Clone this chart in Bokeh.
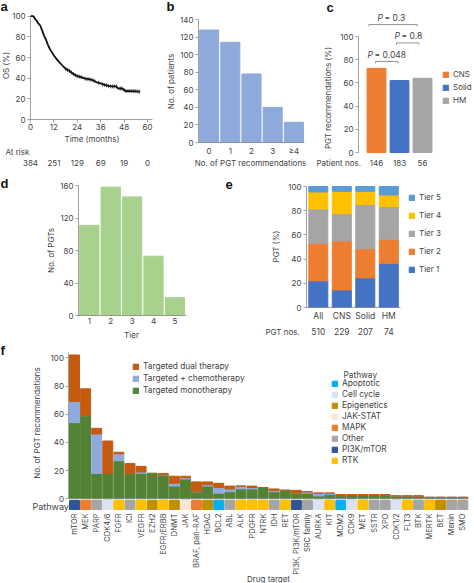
import math
from bokeh.plotting import figure
from bokeh.layouts import row, column
from bokeh.models import Label, Legend, LegendItem, Range1d, LinearAxis, ColumnDataSource, FixedTicker
from bokeh.embed import file_html
from bokeh.resources import INLINE

# ---- data ----
km_t = [0,1.5,2.5,3,4,5,6,7,8,9,10,11,12,14,16,18,20,22,24,26,28,30,32,34,36,38,40,42,44,45,47,48,49,52,56]
km_s = [100,100,97,96,93,91,86,81,77,72,68,65,62,57,53,49,47,44,42,41,39.5,39,38,36,35,33.5,32.5,32,32,30,30,28.5,27.5,27.5,27]
cens_t = [18,19,20,21,22,23,24,25,26,28,29,30,31,32,33,35,37,38,39,40,41,42,43,44,46,47,48,49,50,51,52,53,54,55,56]
cens_s = [49,48,47,45.5,44,43,42,41.5,41,39.5,39,39,38.5,38,37,35.5,34,33.5,33,32.5,32,32,32,32,30,30,28.5,27.5,27.5,27.5,27.5,27.5,27.5,27,27]
risk_t = [0,12,24,36,48,60]
risk_n = ["384","251","129","69","19","0"]

rec_cat = ["0","1","2","3","≥4"]
rec_val = [128,114,78,40,23]

c_nos = ["146","183","56"]
c_grp = ["CNS","Solid","HM"]
c_val = [72.5,62,64]
c_col = ["#ed7d31","#4472c4","#a5a5a5"]

tier_cat = ["1","2","3","4","5"]
tier_val = [111,158,146,73,22]

e_cat = ["All","CNS","Solid","HM"]
e_nos = ["510","229","207","74"]
tier1 = [22,14.5,24.5,36.5]
tier2 = [31,40.5,24,20]
tier3 = [28.5,22.5,36.5,27]
tier4 = [14,18.5,11,9.5]
tier5 = [4.5,4,4,7]

targets = ["mTOR","MEK","PARP","CDK4/6","FGFR","ICI","VEGFR","EZH2","EGFR/ERBB","DNMT","JAK","BRAF, pan-RAF","HDAC","BCL2","ABL",
           "ALK","PDGFR","NTRK","IDH","RET","PI3K, PI3K/mTOR","SRC family","AURKA","KIT","MDM2","CDK9","MET","SSTR","XPO","CDK1/2","FLT3","BTK","MERTK","BET","Menin","SMO"]
mono = [54,59,18,18,27,18,18,18,17,9,14,5,9,4,5,7,7,8,5,6,4,4,2,3,3,3,3,3,3,2,2,2,1,1,1,1]
chemo = [15,0,28,0,5,0,1,0,0,2,1,0,1,4,2,2,1,0,1,0,0,1,2,1,0,0,0,0,0,0,0,0,0,0,0,0]
dual = [33,19,4,23,1,7,4,0,1,5,1,7,2,3,2,0,1,0,1,0,2,0,0,0,0,0,0,0,0,0,0,0,0,0,0,0]
pathway = ["PI3K/mTOR","MAPK","Other","Cell cycle","RTK","Other","RTK","Epigenetics","RTK","Epigenetics","JAK-STAT","MAPK","Epigenetics","Apoptotic","Other",
           "RTK","RTK","RTK","Other","RTK","PI3K/mTOR","Other","Cell cycle","RTK","Apoptotic","Cell cycle","RTK","Other","Other","Cell cycle","RTK","Other","RTK","Epigenetics","Other","Other"]
path_names = ["Apoptotic","Cell cycle","Epigenetics","JAK-STAT","MAPK","Other","PI3K/mTOR","RTK"]
path_cols = ["#00b0f0","#dae3f3","#bf9000","#fbe5d6","#ed7d31","#a5a5a5","#2f5597","#ffc000"]

# ---- style ----
FONT = "Inter"
FS = "8px"
TXT = "#444444"
AX = "#8a8a8a"

def panel(box, xmap, ymap):
    """box in page pixels; xmap/ymap = (pixel at v0, pixel at v1, v0, v1)."""
    x0, x1, y0, y1 = box
    def inv(px, m):
        a, b, va, vb = m
        return va + (px - a) * (vb - va) / (b - a)
    p = figure(width=x1-x0, height=y1-y0, x_range=Range1d(inv(x0, xmap), inv(x1, xmap)),
               y_range=Range1d(inv(y1, ymap), inv(y0, ymap)), x_axis_location=None, y_axis_location=None,
               min_border=0, toolbar_location=None, output_backend="svg", outline_line_color=None,
               border_fill_color=None, background_fill_color=None)
    p.grid.visible = False
    p._box = box
    return p

def axis(p, dim, loc, ticks, bounds, labels=None, tick=3, line=AX, standoff=2, size=FS, orient=None):
    ax = LinearAxis(fixed_location=loc, ticker=FixedTicker(ticks=ticks), bounds=bounds)
    ax.axis_line_color = line
    ax.axis_line_width = 0.8
    ax.major_tick_line_color = AX if tick else None
    ax.major_tick_line_width = 0.8
    ax.major_tick_in = 0
    ax.major_tick_out = tick
    ax.minor_tick_line_color = None
    ax.major_label_text_font = FONT
    ax.major_label_text_font_size = size
    ax.major_label_text_color = TXT
    ax.major_label_standoff = standoff
    if labels is not None:
        ax.major_label_overrides = dict(zip(ticks, labels))
    if orient is not None:
        ax.major_label_orientation = orient
    p.add_layout(ax, "below" if dim == "x" else "left")
    return ax

def text(p, px, py, s, align="left", size=FS, font=FONT, style="normal", color=TXT, angle=0):
    x0, x1, y0, y1 = p._box
    p.add_layout(Label(x=px-x0, y=y1-py, x_units="screen", y_units="screen", text=s, text_align=align, angle=angle,
                       text_baseline="middle", text_font=font, text_font_size=size, text_font_style=style, text_color=color))

def ytitle(p, px, py, s):
    text(p, px, py, s, align="center", angle=math.pi/2)

def letter(p, px, py, s):
    text(p, px, py, s, size="13px", font="Liberation Sans", style="bold", color="#111111")

def legend(p, items, left, bottom, spacing, glyph=7, standoff=4, size=FS):
    x0, x1, y0, y1 = p._box
    lg = Legend(items=items, location=(left-x0, y1-bottom), border_line_color=None, background_fill_color=None,
                background_fill_alpha=0, padding=0, margin=0, spacing=spacing, glyph_width=glyph, glyph_height=glyph,
                label_height=8, label_standoff=standoff, label_text_font=FONT, label_text_font_size=size, label_text_color=TXT,
                label_text_baseline="middle", orientation="vertical")
    p.add_layout(lg)

# ---- a ----
a = panel((0,162,0,172), (30,147,0,60), (119,15.7,0,100))
a.line(km_t, km_s, line_color="#111111", line_width=1.8)
a.scatter(cens_t, cens_s, marker="dash", angle=math.pi/2, size=4, line_color="#111111", line_width=0.7)
axis(a, "x", 0, risk_t, (0,62.6), standoff=1)
axis(a, "y", 0, [0,20,40,60,80,100], (0,100), standoff=2)
text(a, 91.5, 138, "Time (months)", align="center")
ytitle(a, 5, 65, "OS (%)")
for t, n in zip(risk_t, risk_n):
    a.add_layout(Label(x=t, x_units="data", y=172-162, y_units="screen", text=n, text_align="center", text_baseline="middle",
                       text_font=FONT, text_font_size=FS, text_color=TXT))
text(a, 5, 151, "At risk")
letter(a, 0, 6, "a")

# ---- b ----
b_idx = list(range(len(rec_cat)))
b = panel((162,312,0,172), (208.6,293.4,0,4), (142,19,0,140))
b.vbar(x=b_idx, top=rec_val, width=0.9, color="#8eaadb")
axis(b, "x", 0, b_idx, (-0.5,4.5), labels=rec_cat, tick=0, standoff=3)
axis(b, "y", -0.5, list(range(0,141,20)), (0,140))
text(b, 250, 162, "No. of PGT recommendations", align="center")
ytitle(b, 170, 81, "No. of patients")
letter(b, 166, 6, "b")

# ---- c ----
c_idx = list(range(len(c_nos)))
c = panel((312,474,0,172), (376,422,0,2), (152,36,0,100))
c_src = ColumnDataSource(dict(x=c_idx, top=c_val, grp=c_grp, col=c_col))
rc = c.vbar(x="x", top="top", width=0.82, color="col", source=c_src)
axis(c, "x", 0, c_idx, (-0.5,2.5), labels=c_nos, tick=0, line=None, standoff=7)
axis(c, "y", -0.78, [0,20,40,60,80,100], (0,100))
legend(c, [LegendItem(label=g, renderers=[rc], index=i) for i, g in enumerate(c_grp)], 442, 105, 3)
ytitle(c, 327, 97.5, "PGT recommendations (%)")
text(c, 316, 162, "Patient nos.")
letter(c, 326, 7, "c")
brk_from = [-0.33, 0.87, -0.04]
brk_to = [1.77, 1.84, 0.93]
brk_y = [110.3, 94.5, 78.5]
brk_text = ["= 0.3", "= 0.8", "= 0.048"]
brk_tx = [377, 394, 367]
brk_ty = [17, 35, 54]
for x0, x1, y, s, tx, ty in zip(brk_from, brk_to, brk_y, brk_text, brk_tx, brk_ty):
    c.line([x0, x0, x1, x1], [y-1.5, y, y, y-1.5], line_color="#777777", line_width=0.8)
    text(c, tx, ty, "P", style="italic", size="8.5px")
    text(c, tx+7, ty, s, size="8.5px")

# ---- d ----
d_idx = list(range(len(tier_cat)))
d = panel((0,225,172,340), (88.8,174.4,0,4), (315,185,0,160))
d.vbar(x=d_idx, top=tier_val, width=0.9, color="#a9d18e")
axis(d, "x", 0, d_idx, (-0.6,4.55), labels=tier_cat, tick=0, standoff=2)
axis(d, "y", -0.5, [0,40,80,120,160], (0,160))
text(d, 131, 334, "Tier", align="center")
ytitle(d, 50, 250, "No. of PGTs")
letter(d, 0, 183, "d")

# ---- e ----
e_idx = list(range(len(e_cat)))
e = panel((225,474,172,340), (317.8,388.3,0,3), (307,186,0,100))
e_src = ColumnDataSource(dict(x=e_idx, t1=tier1, t2=tier2, t3=tier3, t4=tier4, t5=tier5))
rs = e.vbar_stack(["t1","t2","t3","t4","t5"], x="x", width=0.81, source=e_src,
                  color=["#4472c4","#ed7d31","#a5a5a5","#ffc000","#5b9bd5"])
axis(e, "x", 0, e_idx, (-0.5,3.5), labels=e_cat, tick=0, standoff=3, size="8.5px")
axis(e, "y", -0.5, [0,20,40,60,80,100], (0,100))
legend(e, [LegendItem(label=f"Tier {i+1}", renderers=[rs[i]]) for i in range(4,-1,-1)], 408, 274, 8)
ytitle(e, 275, 246, "PGT (%)")
for i, n in zip(e_idx, e_nos):
    e.add_layout(Label(x=i, x_units="data", y=340-331, y_units="screen", text=n, text_align="center", text_baseline="middle",
                       text_font=FONT, text_font_size="8.5px", text_color=TXT))
text(e, 265, 331, "PGT nos.")
letter(e, 225, 184, "e")

# ---- f ----
f_idx = list(range(len(targets)))
f = panel((0,474,340,583), (74,462.3,0,35), (498.3,357.3,0,100))
f_src = ColumnDataSource(dict(x=f_idx, mono=mono, chemo=chemo, dual=dual))
fr = f.vbar_stack(["mono","chemo","dual"], x="x", width=0.9, source=f_src, color=["#548235","#8faadc","#c55a11"])
axis(f, "x", -8.3, f_idx, (-0.5,35.5), labels=targets, tick=0, line=None, standoff=3, orient=math.pi/2, size="7.5px")
axis(f, "x", 0, [], (-0.5,35.5), tick=0)
axis(f, "y", -0.5, [0,20,40,60,80,100], (0,104))
path_items = []
for name, col in zip(path_names, path_cols):
    xs = [i for i, pw in zip(f_idx, pathway) if pw == name]
    g = f.rect(x=xs, y=[-4.4]*len(xs), width=0.9, height=6.4, color=col)
    path_items.append(LegendItem(label=name, renderers=[g]))
legend(f, [LegendItem(label=l, renderers=[fr[i]]) for l, i in [("Targeted dual therapy",2),("Targeted + chemotherapy",1),("Targeted monotherapy",0)]], 132, 395, 2, size="8.3px")
legend(f, path_items, 331, 465, 1, size="8.3px")
text(f, 343, 374, "Pathway", size="8.3px")
ytitle(f, 36, 422.5, "No. of PGT recommendations")
text(f, 268, 578, "Drug target", align="center")
text(f, 32, 506, "Pathway", size="9px")
letter(f, 0, 350, "f")

root = column(row(a, b, c), row(d, e), f)
open("out.html", "w").write(file_html(root, INLINE))
